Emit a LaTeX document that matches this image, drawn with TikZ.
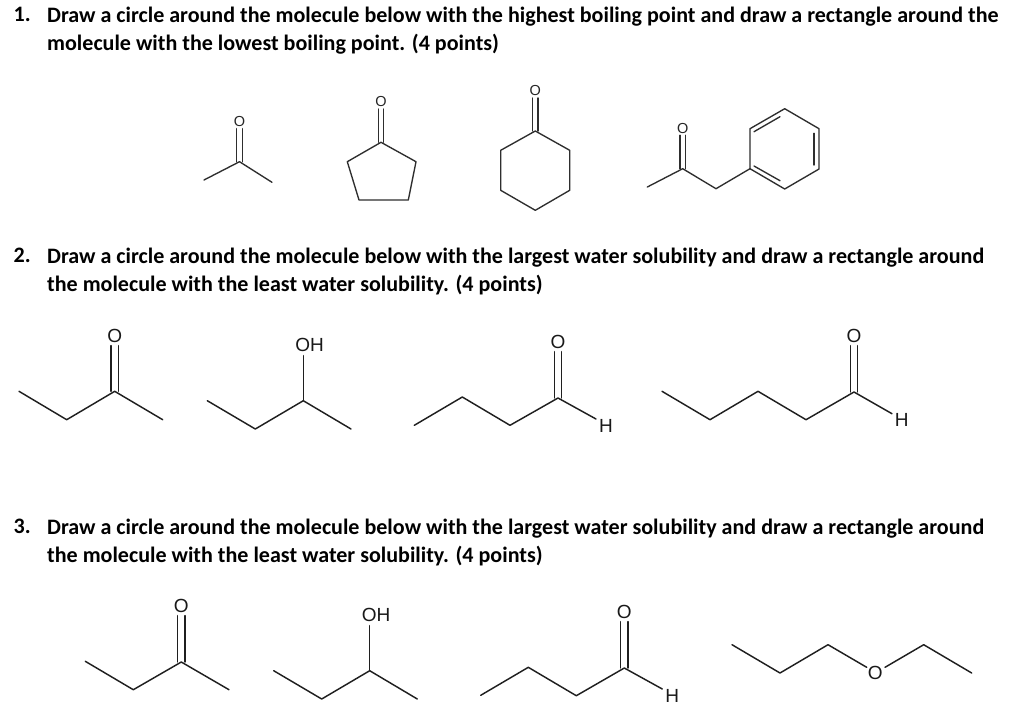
\documentclass[tikz,border=0pt]{standalone}
\usepackage{fontspec}
\setmainfont{Carlito}
\newfontfamily\arialf{Liberation Sans}
\newcommand{\dblbond}[3][3.6pt]{%
  \draw[bond] ([xshift=-#1]#2) -- ([xshift=-#1]#3.south);
  \draw[bond] ([xshift=#1]#2) -- ([xshift=#1]#3.south);}
\newcommand{\dblbondsm}[2]{%
  \draw[thinbond] ([xshift=-2.8pt]#1) -- ([xshift=-2.8pt]#2.south);
  \draw[thinbond] ([xshift=2.8pt]#1) -- ([xshift=2.8pt]#2.south);}
\tikzset{
  bond/.style={draw=black!88,line width=1.45pt,line join=round,line cap=round},
  thinbond/.style={draw=black!82,line width=1.35pt,line join=round,line cap=round},
  qtext/.style={anchor=north west,align=left,inner sep=0pt,font=\fontsize{22.05}{28}\selectfont\bfseries,text=black},
  qnum/.style={anchor=north west,inner sep=0pt,font=\fontsize{22.05}{28}\selectfont\bfseries,text=black},
  atomsm/.style={inner sep=1.6pt,font=\arialf\fontsize{14.5}{15}\selectfont,text=black!85},
  atom/.style={inner sep=3pt,font=\arialf\fontsize{19}{20}\selectfont,text=black!90},
}
\begin{document}
\begin{tikzpicture}[x=1pt,y=-1pt]
\fill[white] (0,0) rectangle (1024,710);
\useasboundingbox (0,0) rectangle (1024,710);
% Questions
\node[qnum] (n1) at (13.5,7.3) {1.};
\node[qtext] (q1) at (47,7.3) {Draw a circle around the molecule below with the highest boiling point and draw a rectangle around the\\molecule with the lowest boiling point. (4 points)};
\node[qnum] (n2) at (13.5,248.3) {2.};
\node[qtext] (q2) at (47,248.3) {Draw a circle around the molecule below with the largest water solubility and draw a rectangle around\\the molecule with the least water solubility. (4 points)};
\node[qnum] (n3) at (13.5,519.3) {3.};
\node[qtext] (q3) at (47,519.3) {Draw a circle around the molecule below with the largest water solubility and draw a rectangle around\\the molecule with the least water solubility. (4 points)};
% Row 1: acetone
\coordinate (a1) at (204,180); \coordinate (a2) at (239.5,161.7); \coordinate (a3) at (272,182.3);
\node[atomsm] (aO) at (239.5,121.7) {O};
\draw[thinbond] (a1) -- (a2) -- (a3);
\dblbondsm{a2}{aO}
% cyclopentanone
\coordinate (b1) at (381,142.3); \coordinate (b2) at (416,161.7); \coordinate (b3) at (408.3,200);
\coordinate (b4) at (359,200); \coordinate (b5) at (347.3,161.7);
\node[atomsm] (bO) at (381,102) {O};
\draw[thinbond] (b1) -- (b2) -- (b3) -- (b4) -- (b5) -- cycle;
\dblbondsm{b1}{bO}
% cyclohexanone
\coordinate (c1) at (535.3,131); \coordinate (c2) at (569.7,150.3); \coordinate (c3) at (569.7,190.3);
\coordinate (c4) at (535.3,210.3); \coordinate (c5) at (500.7,190.3); \coordinate (c6) at (500.7,150.3);
\node[atomsm] (cO) at (535.3,91) {O};
\draw[thinbond] (c1) -- (c2) -- (c3) -- (c4) -- (c5) -- (c6) -- cycle;
\dblbondsm{c1}{cO}
% phenylacetone
\coordinate (d1) at (647.3,187); \coordinate (d2) at (682.7,168.7); \coordinate (d3) at (716,188.7);
\coordinate (r1) at (750,168.7); \coordinate (r2) at (750,128.7); \coordinate (r3) at (784.7,108.7);
\coordinate (r4) at (819,128.7); \coordinate (r5) at (819,169); \coordinate (r6) at (784.7,189);
\coordinate (i1) at (754,131.7); \coordinate (i2) at (780,116.7);
\coordinate (i3) at (754,166); \coordinate (i4) at (780,180.7);
\coordinate (i5) at (814,133.3); \coordinate (i6) at (814,165);
\node[atomsm] (dO) at (682.7,128.3) {O};
\draw[thinbond] (d1) -- (d2) -- (d3) -- (r1);
\draw[thinbond] (r1) -- (r2) -- (r3) -- (r4) -- (r5) -- (r6) -- cycle;
\draw[thinbond] (i1) -- (i2);
\draw[thinbond] (i3) -- (i4);
\draw[thinbond] (i5) -- (i6);
\dblbondsm{d2}{dO}
% Row 2
\coordinate (e1) at (19,391.3); \coordinate (e2) at (66.7,419.7); \coordinate (e3) at (114.7,391.3); \coordinate (e4) at (162.7,419.7);
\node[atom] (eO) at (114.7,335.7) {O};
\draw[bond] (e1) -- (e2) -- (e3) -- (e4);
\dblbond{e3}{eO}
\coordinate (f1) at (207.3,400.7); \coordinate (f2) at (255.3,429); \coordinate (f3) at (303.3,400.7); \coordinate (f4) at (351,429);
\coordinate (fb) at (303.3,355.7);
\node[atom] (fO) at (309.7,345.3) {OH};
\draw[bond] (f1) -- (f2) -- (f3) -- (f4);
\draw[bond] (f3) -- (fb);
\coordinate (g1) at (414.3,425.3); \coordinate (g2) at (462.3,397); \coordinate (g3) at (510,425.3); \coordinate (g4) at (558,398);
\coordinate (gb) at (596,419);
\node[atom] (gO) at (558,341.7) {O};
\node[atom] (gH) at (606,426.3) {H};
\draw[bond] (g1) -- (g2) -- (g3) -- (g4) -- (gb);
\dblbond{g4}{gO}
\coordinate (h1) at (662,391.3); \coordinate (h2) at (710,419.7); \coordinate (h3) at (758,391.3); \coordinate (h4) at (806,419.7); \coordinate (h5) at (854,392);
\coordinate (hb) at (892,413.7);
\node[atom] (hO) at (854,335.7) {O};
\node[atom] (hH) at (901.7,420) {H};
\draw[bond] (h1) -- (h2) -- (h3) -- (h4) -- (h5) -- (hb);
\dblbond{h5}{hO}
% Row 3
\coordinate (j1) at (85.3,661.3); \coordinate (j2) at (133.3,689.7); \coordinate (j3) at (181.3,662); \coordinate (j4) at (229,689.7);
\node[atom] (jO) at (181.3,605.7) {O};
\draw[bond] (j1) -- (j2) -- (j3) -- (j4);
\dblbond{j3}{jO}
\coordinate (k1) at (273.7,670.7); \coordinate (k2) at (321.7,699); \coordinate (k3) at (369.7,670.7); \coordinate (k4) at (417.3,699);
\coordinate (kb) at (369.7,625.7);
\node[atom] (kO) at (376,615.3) {OH};
\draw[bond] (k1) -- (k2) -- (k3) -- (k4);
\draw[bond] (k3) -- (kb);
\coordinate (l1) at (480.7,695.3); \coordinate (l2) at (528.3,667.3); \coordinate (l3) at (576.3,695.7); \coordinate (l4) at (624.3,668);
\coordinate (lb) at (662.3,689);
\node[atom] (lO) at (624.3,611.7) {O};
\node[atom] (lH) at (672.3,696.3) {H};
\draw[bond] (l1) -- (l2) -- (l3) -- (l4) -- (lb);
\dblbond{l4}{lO}
\coordinate (m1) at (732,644.7); \coordinate (m2) at (780,673); \coordinate (m3) at (828,644.7);
\coordinate (m4) at (923.7,644.7); \coordinate (m5) at (971.7,673);
\coordinate (mb1) at (866.7,667.3); \coordinate (mb2) at (885,667.3);
\node[atom] (mO) at (875.3,673) {O};
\draw[bond] (m1) -- (m2) -- (m3) -- (mb1);
\draw[bond] (mb2) -- (m4) -- (m5);
\end{tikzpicture}
\end{document}
